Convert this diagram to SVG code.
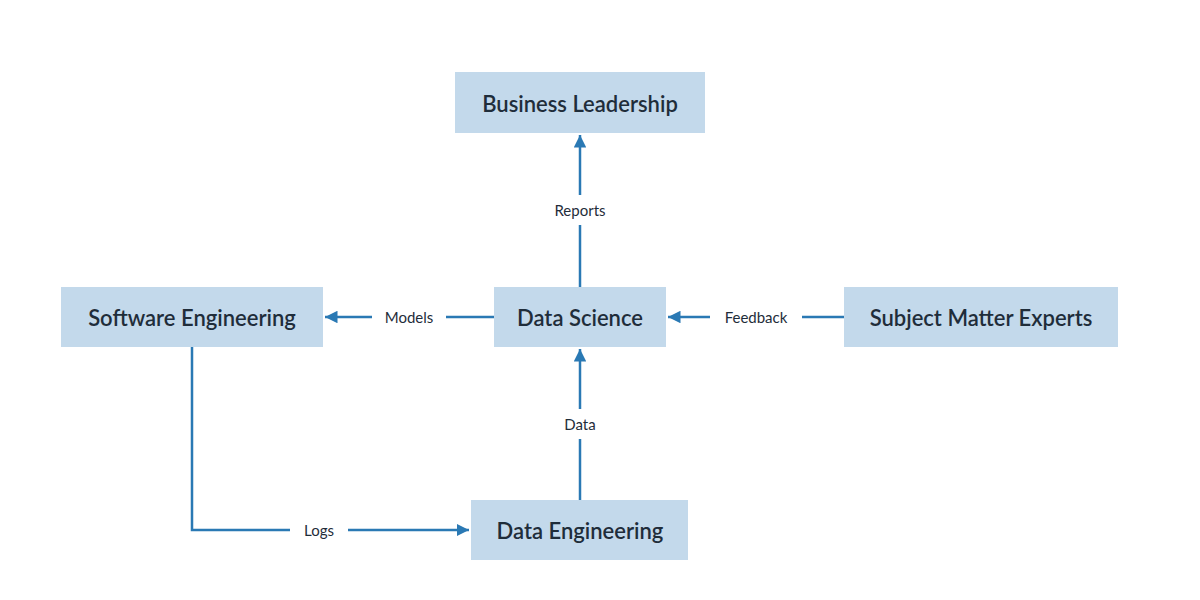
<svg xmlns="http://www.w3.org/2000/svg" width="1200" height="600" viewBox="0 0 1200 600">
<style>
.n{fill:#c3d9eb}
.t{font-family:Lato,"Noto Sans",sans-serif;font-size:22px;font-weight:600;fill:#1f2d3a;text-anchor:middle;dominant-baseline:central}
.c{fill:none;stroke:#2a79b4;stroke-width:2.5}
.lb{fill:#fff}
.l{font-family:Lato,"Noto Sans",sans-serif;font-size:15px;fill:#1f2d3a;text-anchor:middle;dominant-baseline:central}
</style>
<defs><marker id="a" viewBox="0 0 10 10" refX="10" refY="5" markerWidth="5" markerHeight="5" orient="auto"><path d="M0,0L10,5L0,10z" fill="#2a79b4"/></marker></defs>
<rect width="1200" height="600" fill="#fff"/>
<g id="connectors">
<path class="c" d="M580,287V135" marker-end="url(#a)"/>
<path class="c" d="M494,317H325" marker-end="url(#a)"/>
<path class="c" d="M844,317H668" marker-end="url(#a)"/>
<path class="c" d="M580,500V349" marker-end="url(#a)"/>
<path class="c" d="M192,347V530H469" marker-end="url(#a)"/>
<rect class="lb" x="545" y="195" width="70" height="30"/><text class="l" x="580" y="210">Reports</text>
<rect class="lb" x="372" y="302" width="74" height="30"/><text class="l" x="409" y="317">Models</text>
<rect class="lb" x="710" y="302" width="92" height="30"/><text class="l" x="756" y="317">Feedback</text>
<rect class="lb" x="555" y="409" width="50" height="30"/><text class="l" x="580" y="424">Data</text>
<rect class="lb" x="290" y="515" width="58" height="30"/><text class="l" x="319" y="530">Logs</text>
</g>
<g id="bl"><rect class="n" x="455" y="72" width="250" height="61"/><text class="t" x="580" y="103">Business Leadership</text></g>
<g id="se"><rect class="n" x="61" y="287" width="262" height="60"/><text class="t" x="192" y="317">Software Engineering</text></g>
<g id="ds"><rect class="n" x="494" y="287" width="172" height="60"/><text class="t" x="580" y="317">Data Science</text></g>
<g id="sme"><rect class="n" x="844" y="287" width="274" height="60"/><text class="t" x="981" y="317">Subject Matter Experts</text></g>
<g id="de"><rect class="n" x="471" y="500" width="217" height="60"/><text class="t" x="580" y="530">Data Engineering</text></g>
</svg>
